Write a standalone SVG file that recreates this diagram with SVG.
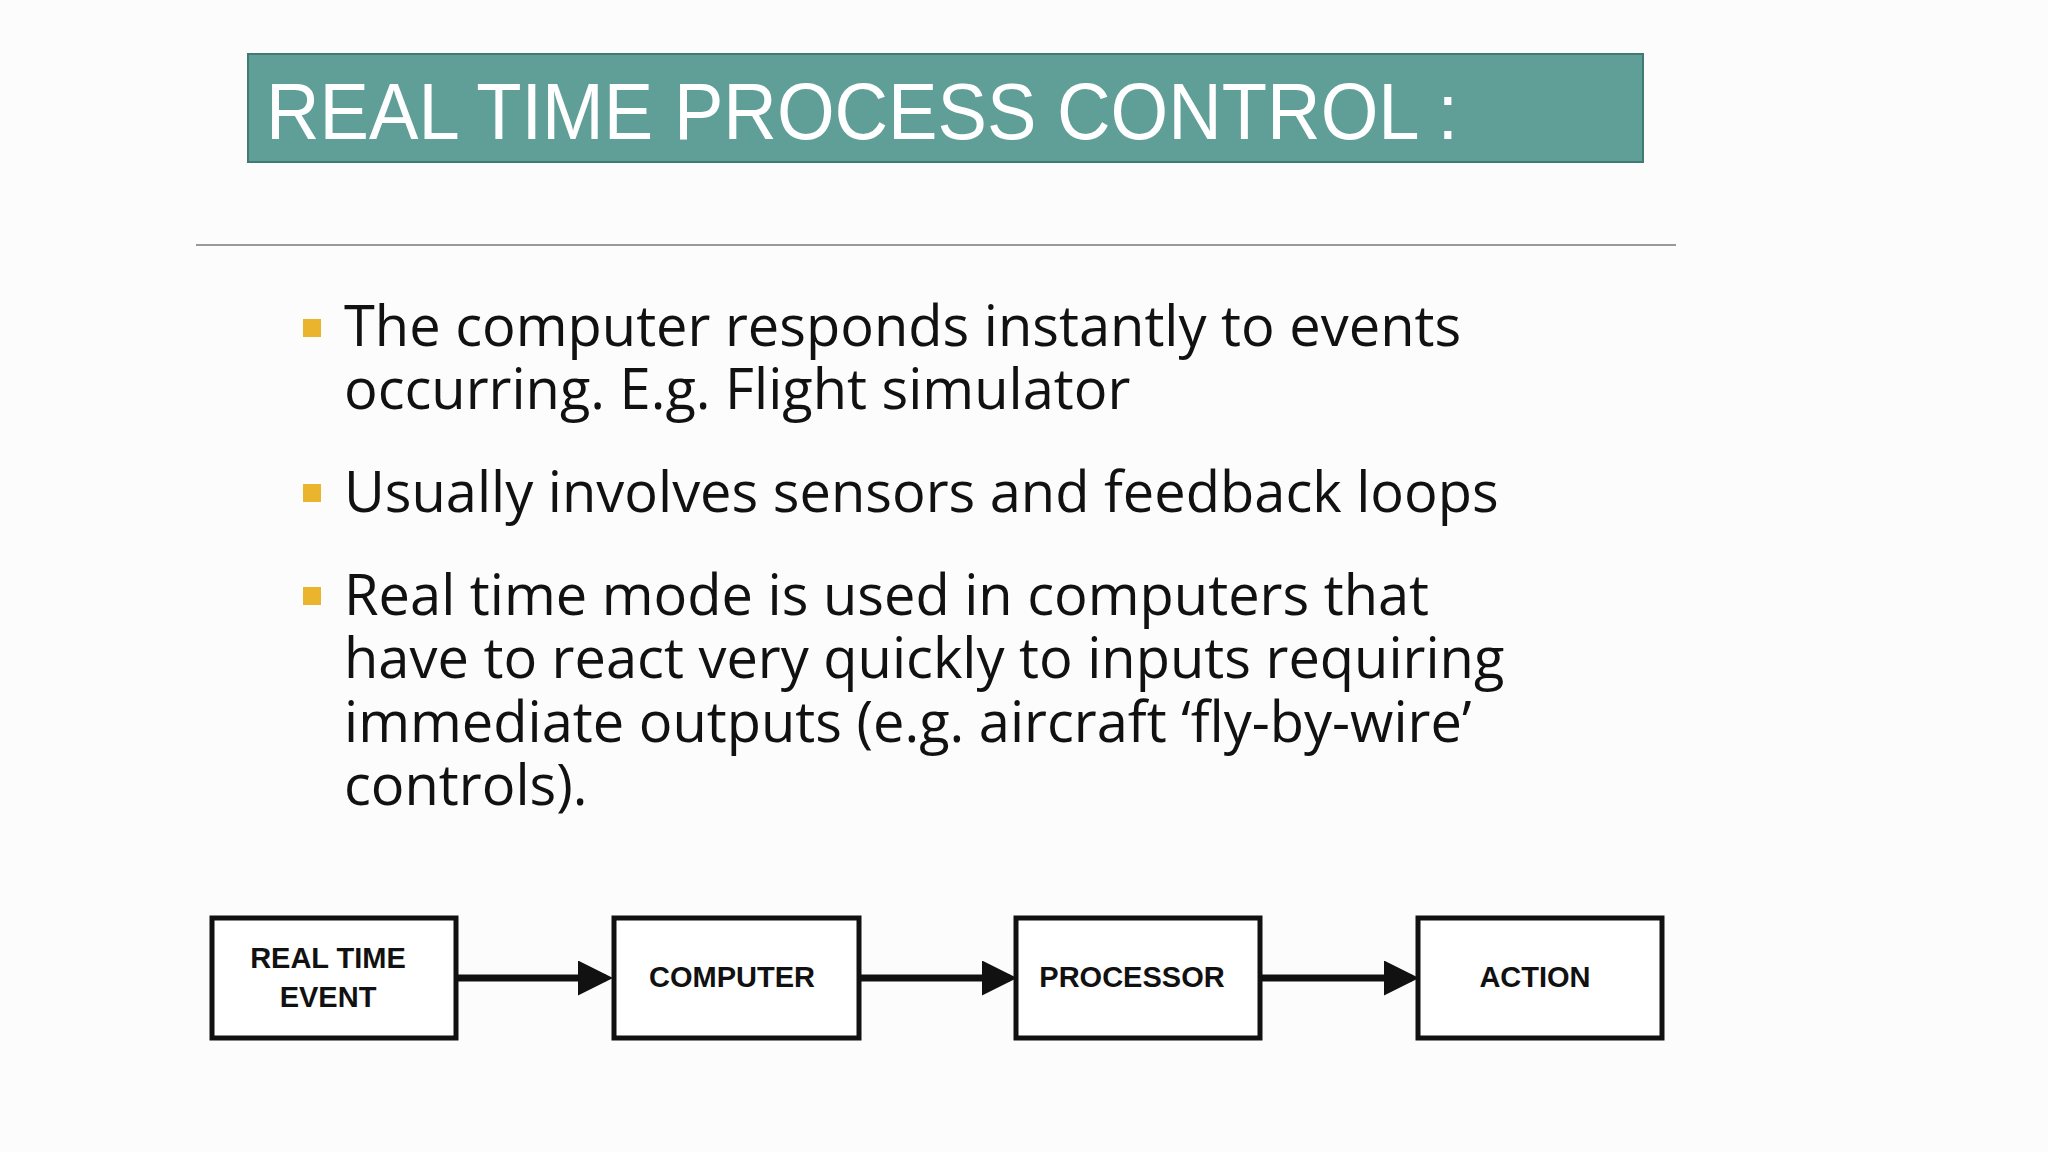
<svg xmlns="http://www.w3.org/2000/svg" width="2048" height="1152" viewBox="0 0 2048 1152">
<style>
.b{font-family:"Open Sans","Liberation Sans",sans-serif;font-size:56px;fill:#111}
.n{font-family:"Liberation Sans",Arial,sans-serif;font-weight:bold;font-size:29px;fill:#111;text-anchor:middle}
.box{fill:#fff;stroke:#111;stroke-width:5}
.c{stroke:#111;stroke-width:7;fill:none}
</style>
<defs><marker id="ah" markerWidth="5" markerHeight="5" refX="4" refY="2.5" orient="auto" markerUnits="strokeWidth"><path d="M0,0L5,2.5L0,5Z" fill="#111"/></marker></defs>
<rect width="2048" height="1152" fill="#fdfcfd"/>
<g id="title"><rect x="248" y="54" width="1395" height="108" fill="#5f9f97" stroke="#3f7a73" stroke-width="2"/>
<text x="266" y="139" font-family="Liberation Sans,Arial,sans-serif" font-size="80" fill="#fff" textLength="1192" lengthAdjust="spacingAndGlyphs">REAL TIME PROCESS CONTROL :</text></g>
<line x1="196" y1="245" x2="1676" y2="245" stroke="#999" stroke-width="2"/>
<g id="bullets">
<rect x="303" y="319" width="18" height="18" fill="#eab42c"/>
<rect x="303" y="484" width="18" height="18" fill="#eab42c"/>
<rect x="303" y="587" width="18" height="18" fill="#eab42c"/>
<text class="b" x="344" y="346">The computer responds instantly to events</text>
<text class="b" x="344" y="409">occurring. E.g. Flight simulator</text>
<text class="b" x="344" y="512">Usually involves sensors and feedback loops</text>
<text class="b" x="344" y="615">Real time mode is used in computers that</text>
<text class="b" x="344" y="678">have to react very quickly to inputs requiring</text>
<text class="b" x="344" y="742">immediate outputs (e.g. aircraft ‘fly-by-wire’</text>
<text class="b" x="344" y="805">controls).</text>
</g>
<g id="connectors">
<line class="c" x1="456" y1="978" x2="606" y2="978" marker-end="url(#ah)"/>
<line class="c" x1="859" y1="978" x2="1010" y2="978" marker-end="url(#ah)"/>
<line class="c" x1="1260" y1="978" x2="1412" y2="978" marker-end="url(#ah)"/>
</g>
<g id="n1"><rect class="box" x="212" y="918" width="244" height="120"/><text class="n" x="328" y="968">REAL TIME</text><text class="n" x="328" y="1007">EVENT</text></g>
<g id="n2"><rect class="box" x="614" y="918" width="245" height="120"/><text class="n" x="732" y="987">COMPUTER</text></g>
<g id="n3"><rect class="box" x="1016" y="918" width="244" height="120"/><text class="n" x="1132" y="987">PROCESSOR</text></g>
<g id="n4"><rect class="box" x="1418" y="918" width="244" height="120"/><text class="n" x="1535" y="987">ACTION</text></g>
</svg>
